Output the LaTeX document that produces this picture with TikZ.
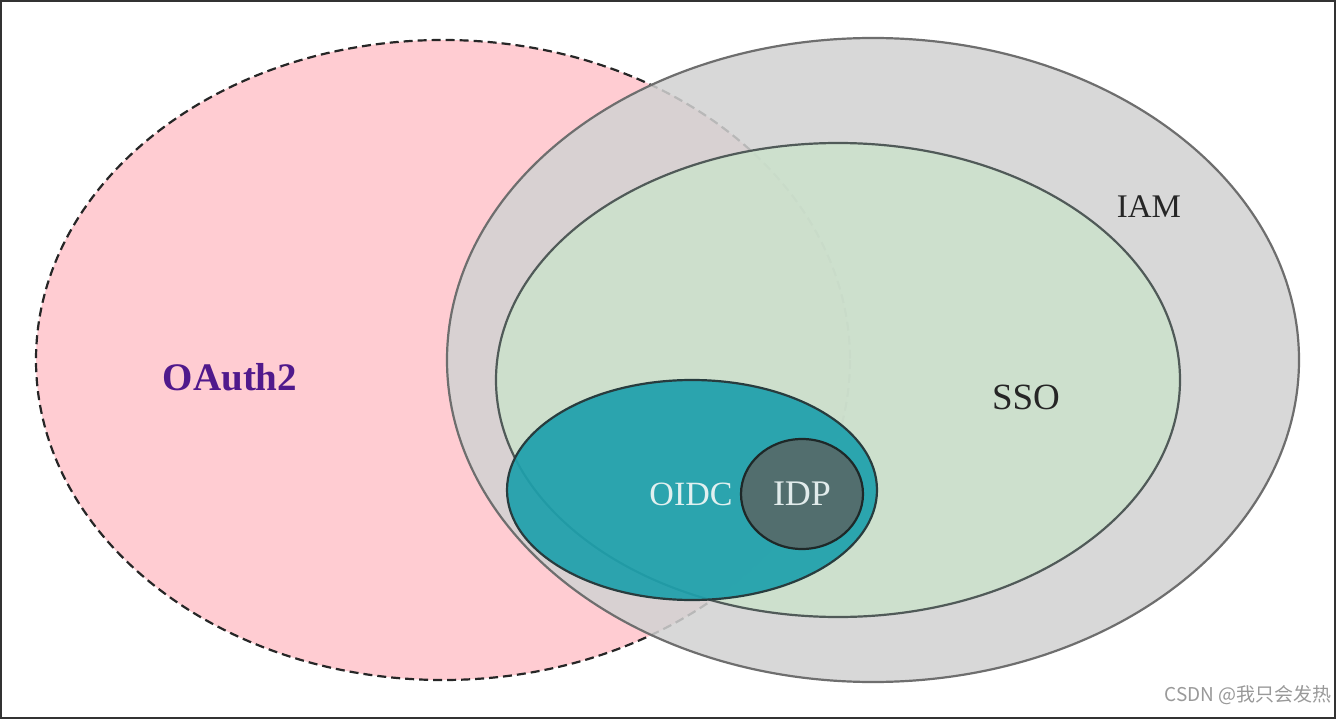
\documentclass[tikz,border=0pt]{standalone}
\usepackage{fontspec}
\setmainfont{Liberation Serif}
\newfontfamily\cjk{Noto Sans CJK SC}
\begin{document}
\begin{tikzpicture}[x=1pt,y=-1pt,
  ell/.style={line width=2.2pt},
  lbl/.style={inner sep=0pt}]
\useasboundingbox (0,0) rectangle (1336,719);
\fill[white] (0,0) rectangle (1336,719);
\draw[line width=1.5pt,black!80] (1,1) rectangle (1335,718);
% OAuth2
\fill[fill={rgb,255:red,255;green,204;blue,210}] (443,360) ellipse [x radius=407, y radius=320];
\draw[ell,dash pattern=on 9pt off 5pt,black!85] (443,360) ellipse [x radius=407, y radius=320];
% IAM
\filldraw[ell,fill={rgb,255:red,210;green,210;blue,210},fill opacity=0.85,draw={rgb,255:red,110;green,110;blue,110}] (873,360) ellipse [x radius=426, y radius=322];
% SSO
\filldraw[ell,fill={rgb,255:red,204;green,226;blue,204},fill opacity=0.85,draw={rgb,255:red,80;green,90;blue,88}] (838,380) ellipse [x radius=342, y radius=237];
% OIDC
\filldraw[ell,fill={rgb,255:red,30;green,160;blue,172},fill opacity=0.92,draw={rgb,255:red,40;green,60;blue,62}] (692,490) ellipse [x radius=185, y radius=110];
% IDP
\filldraw[ell,fill={rgb,255:red,82;green,110;blue,110},draw={rgb,255:red,30;green,40;blue,40}] (802,494) ellipse [x radius=61, y radius=55];
\node[lbl,font=\fontsize{39}{42}\selectfont\bfseries,text={rgb,255:red,80;green,25;blue,140}] (oauth) at (230,377) {OAuth2};
\node[lbl,font=\fontsize{33}{36}\selectfont,text=black!85] (iam) at (1149,207) {IAM};
\node[lbl,font=\fontsize{37}{40}\selectfont,text=black!85] (sso) at (1026,397) {SSO};
\node[lbl,font=\fontsize{34}{38}\selectfont,text={rgb,255:red,225;green,240;blue,240}] (oidc) at (691,494) {OIDC};
\node[lbl,font=\fontsize{36}{40}\selectfont,text={rgb,255:red,225;green,235;blue,235}] (idp) at (802,494) {IDP};
\node[lbl,font=\cjk\fontsize{19}{22}\selectfont,text=black!40,anchor=east] (csdn) at (1332,695) {CSDN @我只会发热};
\end{tikzpicture}
\end{document}
